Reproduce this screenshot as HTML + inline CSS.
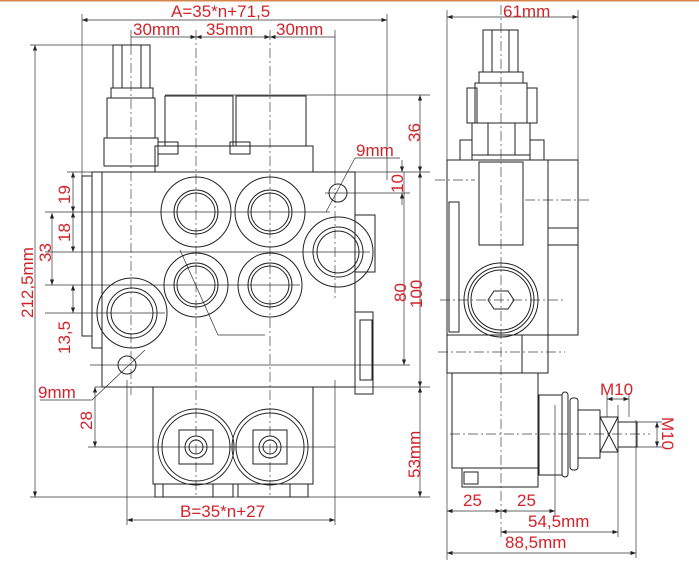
<!DOCTYPE html>
<html><head><style>
body{margin:0;background:#fff;width:699px;height:563px;overflow:hidden}
svg{display:block}
text{font-family:"Liberation Sans","DejaVu Sans",sans-serif;fill:#d2232a;font-size:17px}
.k{stroke:#222;fill:none;stroke-width:1}
.t{stroke:#333;fill:none;stroke-width:.7}
.c{stroke:#444;fill:none;stroke-width:.7;stroke-dasharray:10 3 2 3}
</style></head><body>
<svg width="699" height="563" viewBox="0 0 699 563">
<defs><marker id="a" markerWidth="8" markerHeight="6" refX="8" refY="3" orient="auto-start-reverse"><path d="M0,0L8,3L0,6z" fill="#222"/></marker></defs>
<rect x="0" y="0" width="699" height="1.5" fill="#d4864a"/>
<!-- LEFT VIEW -->
<g class="t">
<line x1="82" y1="14" x2="82" y2="180"/><line x1="387" y1="14" x2="387" y2="180"/>
<line x1="82" y1="20" x2="387" y2="20" marker-start="url(#a)" marker-end="url(#a)"/>
<line x1="131" y1="30" x2="131" y2="45"/><line x1="335" y1="30" x2="335" y2="175"/>
<line x1="131" y1="37" x2="196" y2="37" marker-end="url(#a)"/>
<line x1="196" y1="37" x2="270" y2="37" marker-start="url(#a)" marker-end="url(#a)"/>
<line x1="270" y1="37" x2="335" y2="37" marker-start="url(#a)"/>
<line x1="30" y1="45" x2="150" y2="45"/>
<line x1="35" y1="45" x2="35" y2="497" marker-start="url(#a)" marker-end="url(#a)"/>
<line x1="30" y1="497" x2="430" y2="497"/>
<line x1="165" y1="95" x2="430" y2="95"/>
<line x1="420" y1="95" x2="420" y2="172" marker-start="url(#a)" marker-end="url(#a)"/>
<line x1="67" y1="172" x2="430" y2="172"/>
<line x1="420" y1="172" x2="420" y2="387" marker-start="url(#a)" marker-end="url(#a)"/>
<line x1="404" y1="172" x2="404" y2="365" marker-end="url(#a)"/>
<line x1="402" y1="160" x2="402" y2="172" marker-end="url(#a)"/>
<line x1="402" y1="193" x2="402" y2="205" marker-start="url(#a)"/>
<line x1="325" y1="193" x2="410" y2="193"/>
<line x1="90" y1="365" x2="410" y2="365"/>
<line x1="95" y1="387" x2="430" y2="387"/>
<line x1="73" y1="172" x2="73" y2="212" marker-start="url(#a)" marker-end="url(#a)"/>
<line x1="45" y1="212" x2="330" y2="212"/>
<line x1="73" y1="212" x2="73" y2="252" marker-start="url(#a)" marker-end="url(#a)"/>
<line x1="45" y1="252" x2="370" y2="252"/>
<line x1="52" y1="213" x2="52" y2="285" marker-start="url(#a)" marker-end="url(#a)"/>
<line x1="45" y1="285" x2="300" y2="285"/>
<line x1="73" y1="285" x2="73" y2="313" marker-start="url(#a)" marker-end="url(#a)"/>
<line x1="45" y1="313" x2="165" y2="313"/>
<line x1="95" y1="387" x2="95" y2="447" marker-start="url(#a)" marker-end="url(#a)"/>
<line x1="88" y1="447" x2="335" y2="447"/>
<line x1="420" y1="387" x2="420" y2="497" marker-start="url(#a)" marker-end="url(#a)"/>
<line x1="127" y1="380" x2="127" y2="525"/><line x1="335" y1="380" x2="335" y2="525"/>
<line x1="127" y1="520" x2="335" y2="520" marker-start="url(#a)" marker-end="url(#a)"/>
<polyline points="355,158 400,158"/><line x1="355" y1="158" x2="326" y2="212"/>
<polyline points="40,400 92,400 145,350"/>
<polyline points="180,250 218,335 265,335"/>
</g>
<g class="c">
<line x1="131" y1="45" x2="131" y2="395"/><line x1="196" y1="30" x2="196" y2="495"/>
<line x1="270" y1="30" x2="270" y2="495"/><line x1="335" y1="175" x2="335" y2="300"/>
</g>
<g class="k">
<rect x="113" y="45" width="37" height="43"/><line x1="122" y1="45" x2="122" y2="88"/><line x1="141" y1="45" x2="141" y2="88"/>
<rect x="111" y="88" width="42" height="10"/><rect x="107" y="98" width="48" height="40"/><rect x="104" y="138" width="54" height="28"/>
<rect x="165" y="96" width="68" height="50"/><rect x="236" y="96" width="70" height="50"/>
<rect x="155" y="146" width="158" height="26"/>
<rect x="158" y="142" width="20" height="12"/><rect x="230" y="142" width="20" height="12"/>
<rect x="102" y="172" width="253" height="215"/>
<rect x="92" y="172" width="10" height="176"/><rect x="82" y="176" width="10" height="160"/>
<rect x="355" y="215" width="20" height="57"/><rect x="355" y="312" width="18" height="82"/><rect x="360" y="320" width="12" height="60"/>
<circle cx="196" cy="212" r="35"/><circle cx="196" cy="212" r="22"/><circle cx="196" cy="212" r="19"/>
<circle cx="270" cy="212" r="35"/><circle cx="270" cy="212" r="22"/><circle cx="270" cy="212" r="19"/>
<circle cx="196" cy="285" r="32"/><circle cx="196" cy="285" r="22"/><circle cx="196" cy="285" r="19"/>
<circle cx="270" cy="285" r="32"/><circle cx="270" cy="285" r="22"/><circle cx="270" cy="285" r="19"/>
<circle cx="338" cy="252" r="35"/><circle cx="338" cy="252" r="25"/><circle cx="338" cy="252" r="21"/>
<circle cx="132" cy="313" r="35"/><circle cx="132" cy="313" r="25"/><circle cx="132" cy="313" r="21"/>
<circle cx="338" cy="193" r="9"/><circle cx="127" cy="365" r="9"/>
<rect x="153" y="387" width="160" height="97"/>
<circle cx="196" cy="447" r="38"/><circle cx="196" cy="447" r="34"/><rect x="179" y="430" width="34" height="34"/><circle cx="196" cy="447" r="11"/><circle cx="196" cy="447" r="7"/>
<circle cx="270" cy="447" r="38"/><circle cx="270" cy="447" r="34"/><rect x="253" y="430" width="34" height="34"/><circle cx="270" cy="447" r="11"/><circle cx="270" cy="447" r="7"/>
<rect x="155" y="484" width="8" height="13"/><rect x="213" y="484" width="20" height="13"/><rect x="290" y="484" width="18" height="13"/><rect x="163" y="484" width="70" height="13"/><rect x="238" y="484" width="70" height="13"/>
</g>
<!-- RIGHT VIEW -->
<g class="t">
<line x1="447" y1="10" x2="447" y2="560"/><line x1="578" y1="10" x2="578" y2="160"/>
<line x1="447" y1="17" x2="578" y2="17" marker-start="url(#a)" marker-end="url(#a)"/>
<line x1="447" y1="511" x2="501" y2="511" marker-start="url(#a)" marker-end="url(#a)"/>
<line x1="501" y1="511" x2="555" y2="511" marker-start="url(#a)" marker-end="url(#a)"/>
<line x1="501" y1="532" x2="618" y2="532" marker-start="url(#a)" marker-end="url(#a)"/>
<line x1="447" y1="553" x2="636" y2="553" marker-start="url(#a)" marker-end="url(#a)"/>
<line x1="555" y1="405" x2="555" y2="516"/><line x1="618" y1="405" x2="618" y2="537"/><line x1="636" y1="420" x2="636" y2="558"/>
<line x1="607" y1="399" x2="629" y2="399" marker-start="url(#a)" marker-end="url(#a)"/>
<line x1="607" y1="393" x2="607" y2="417"/><line x1="629" y1="393" x2="629" y2="417"/>
<line x1="657" y1="422" x2="657" y2="447" marker-start="url(#a)" marker-end="url(#a)"/>
<line x1="620" y1="422" x2="662" y2="422"/><line x1="620" y1="447" x2="662" y2="447"/>
</g>
<g class="c">
<line x1="501" y1="5" x2="501" y2="540"/><line x1="435" y1="180" x2="475" y2="180"/><line x1="525" y1="200" x2="592" y2="200"/>
<line x1="440" y1="300" x2="565" y2="300"/><line x1="438" y1="352" x2="565" y2="352"/><line x1="450" y1="434" x2="650" y2="434"/>
</g>
<g class="k">
<rect x="483" y="30" width="35" height="42"/><line x1="492" y1="30" x2="492" y2="72"/><line x1="509" y1="30" x2="509" y2="72"/>
<rect x="479" y="72" width="44" height="11"/><rect x="475" y="83" width="52" height="40"/>
<rect x="467" y="88" width="10" height="35"/><rect x="527" y="88" width="10" height="35"/>
<rect x="472" y="123" width="58" height="32"/><line x1="488" y1="123" x2="488" y2="155"/><line x1="515" y1="123" x2="515" y2="155"/>
<rect x="460" y="140" width="12" height="20"/><rect x="530" y="140" width="14" height="20"/>
<rect x="447" y="160" width="101" height="213"/><rect x="548" y="160" width="30" height="175"/>
<line x1="548" y1="228" x2="578" y2="228"/><line x1="548" y1="245" x2="578" y2="245"/>
<rect x="479" y="162" width="44" height="83"/><rect x="449" y="202" width="10" height="130"/>
<line x1="447" y1="335" x2="548" y2="335"/><line x1="522" y1="335" x2="522" y2="373"/>
<circle cx="501" cy="300" r="37"/><circle cx="501" cy="300" r="33"/><circle cx="501" cy="300" r="30"/>
<polygon points="494,291 508,291 514,300 508,309 494,309 488,300"/>
<rect x="452" y="373" width="86" height="95"/><rect x="462" y="468" width="76" height="19"/><rect x="464" y="472" width="14" height="12"/>
<rect x="539" y="395" width="23" height="80"/><rect x="562" y="392" width="6" height="85" rx="3"/><rect x="570" y="398" width="8" height="72" rx="3"/>
<rect x="578" y="410" width="22" height="48"/><rect x="600" y="417" width="18" height="35"/><rect x="618" y="422" width="19" height="25"/>
<line x1="600" y1="417" x2="618" y2="452"/><line x1="618" y1="417" x2="600" y2="452"/>
</g>
<!-- TEXT -->
<text x="171" y="17">A=35*n+71,5</text>
<text x="133" y="35">30mm</text><text x="206" y="35">35mm</text><text x="276" y="35">30mm</text>
<text x="356" y="156">9mm</text><text x="38" y="398">9mm</text>
<text x="180" y="517">B=35*n+27</text>
<text transform="translate(420,142) rotate(-90)">36</text>
<text transform="translate(403,193) rotate(-90)">10</text>
<text transform="translate(406,302) rotate(-90)">80</text>
<text transform="translate(422,308) rotate(-90)">100</text>
<text transform="translate(420,478) rotate(-90)">53mm</text>
<text transform="translate(33,318) rotate(-90)">212,5mm</text>
<text transform="translate(70,204) rotate(-90)">19</text>
<text transform="translate(70,242) rotate(-90)">18</text>
<text transform="translate(51,262) rotate(-90)">33</text>
<text transform="translate(70,354) rotate(-90)">13,5</text>
<text transform="translate(92,430) rotate(-90)">28</text>
<text x="503" y="17">61mm</text>
<text x="463" y="506">25</text><text x="517" y="506">25</text>
<text x="528" y="527">54,5mm</text><text x="505" y="548">88,5mm</text>
<text x="600" y="395">M10</text>
<text transform="translate(662,417) rotate(90)">M10</text>
</svg>
</body></html>
